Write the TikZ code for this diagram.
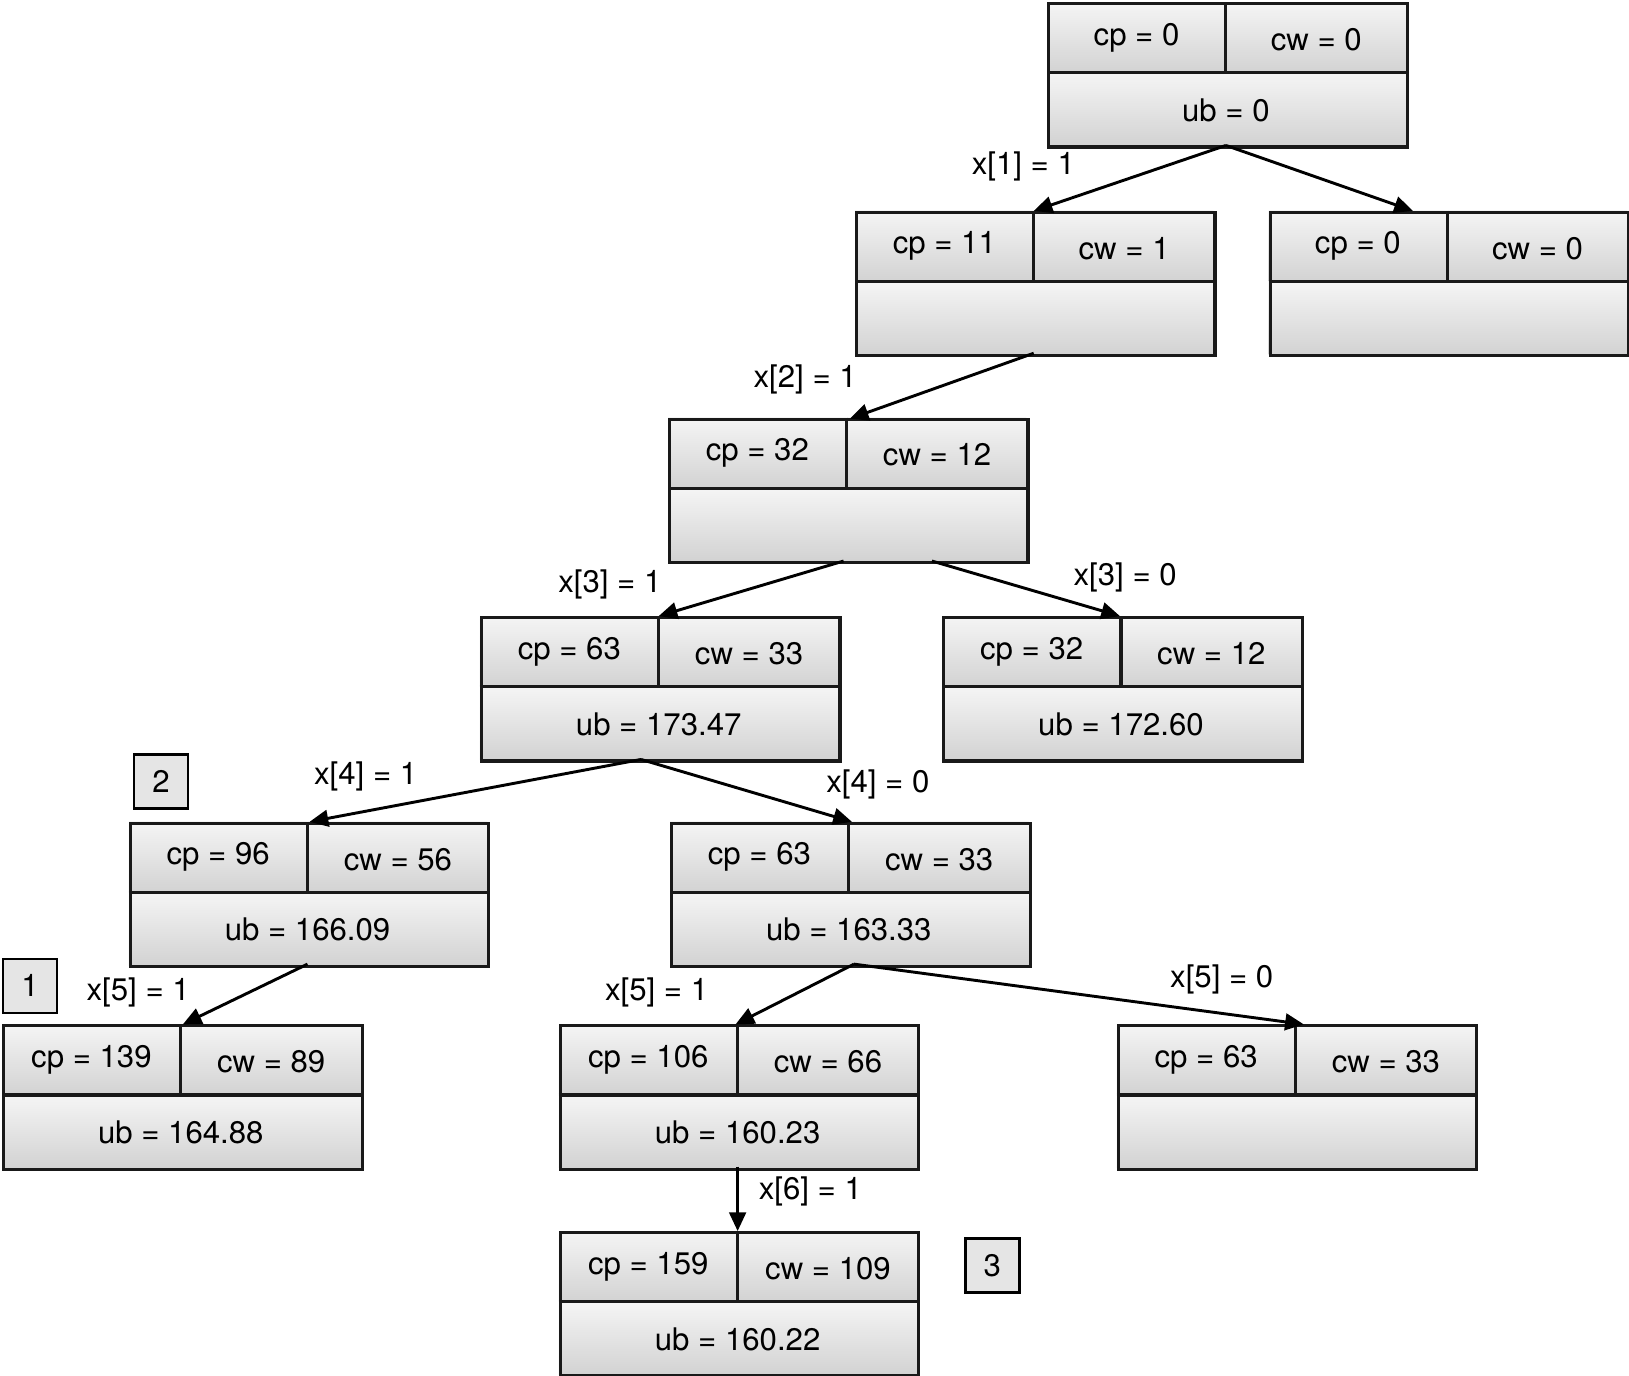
\documentclass[tikz,border=0pt]{standalone}
\usepackage{fontspec}
\setmainfont{TeX Gyre Heros}
\usetikzlibrary{arrows.meta}
\tikzset{
  cellfill/.style={top color=gray!8,bottom color=gray!35},
  boxline/.style={line width=1.5pt,draw=black!90},
  lbl/.style={font=\fontsize{15}{17}\selectfont,inner sep=0pt},
  edge/.style={line width=1.4pt,-{Triangle[length=9pt,width=8pt]}},
  tag/.style={draw,line width=1.3pt,fill=gray!20,minimum width=26pt,minimum height=26pt,inner sep=0pt,font=\fontsize{15}{17}\selectfont}
}
\newcommand\mybox[6]{%
  \shade[cellfill] (#2,#3) rectangle ++(172,68);
  \shade[cellfill] (#2+172,#3) rectangle ++(173,68);
  \shade[cellfill] (#2,#3+68) rectangle ++(345,70);
  \node[boxline,minimum width=172.5pt,minimum height=69pt,anchor=north west,inner sep=0pt] (#1) at (#2,#3) {};
  \draw[boxline] (#2,#3+68) -- ++(345,0) (#2+172,#3) -- ++(0,68);
  \node[lbl] at (#2+86,#3+34) {cp = #4};
  \node[lbl] at (#2+259,#3+36) {cw = #5};
  \node[lbl] at (#2+172,#3+104) {#6};
  \coordinate (#1-t) at (#2+172,#3);
  \coordinate (#1-b) at (#2+172,#3+138);
}
\begin{document}
\begin{tikzpicture}[x=0.5pt,y=-0.5pt]
\useasboundingbox (0,0) rectangle (1568,1324);
\mybox{A}{1008}{2}{0}{0}{ub = 0}
\mybox{B}{823}{203}{11}{1}{}
\mybox{C}{1221}{203}{0}{0}{}
\mybox{D}{643}{402}{32}{12}{}
\mybox{E}{462}{593}{63}{33}{ub = 173.47}
\mybox{F}{907}{593}{32}{12}{ub = 172.60}
\mybox{G}{124}{791}{96}{56}{ub = 166.09}
\mybox{H}{645}{791}{63}{33}{ub = 163.33}
\mybox{I}{2}{986}{139}{89}{ub = 164.88}
\mybox{J}{538}{986}{106}{66}{ub = 160.23}
\mybox{K}{1075}{986}{63}{33}{}
\mybox{L}{538}{1185}{159}{109}{ub = 160.22}
\coordinate (Ct) at (1360,203);
\coordinate (Db1) at (812,540);
\coordinate (Db2) at (897,540);
\coordinate (Eb) at (617,731);
\coordinate (Gt) at (298,791);
\coordinate (Ht) at (820,791);
\coordinate (Gb) at (296,928);
\coordinate (Hb) at (822,928);
\coordinate (Jt) at (708,986);
\coordinate (Kt) at (1255,986);
\coordinate (Jb) at (710,1123);
\coordinate (Lt) at (710,1185);
\coordinate (It) at (176,986);
\coordinate (Dt) at (818,403);
\coordinate (Et) at (634,593);
\coordinate (Ft) at (1078,593);
\coordinate (Bt) at (995,203);
\coordinate (Bb) at (995,340);
\draw[edge] (A-b) -- (Bt);
\draw[edge] (A-b) -- (Ct);
\draw[edge] (Bb) -- (Dt);
\draw[edge] (Db1) -- (Et);
\draw[edge] (Db2) -- (Ft);
\draw[edge] (Eb) -- (Gt);
\draw[edge] (Eb) -- (Ht);
\draw[edge] (Gb) -- (It);
\draw[edge] (Hb) -- (Jt);
\draw[edge] (Hb) -- (Kt);
\draw[edge] (Jb) -- (Lt);
\node[lbl] (l1) at (985,160) {x[1] = 1};
\node[lbl] (l2) at (775,365) {x[2] = 1};
\node[lbl] (l3) at (587,563) {x[3] = 1};
\node[lbl] (l4) at (1083,556) {x[3] = 0};
\node[lbl] (l5) at (352,747) {x[4] = 1};
\node[lbl] (l6) at (845,755) {x[4] = 0};
\node[lbl] (l7) at (133,955) {x[5] = 1};
\node[lbl] (l8) at (632,955) {x[5] = 1};
\node[lbl] (l9) at (1176,943) {x[5] = 0};
\node[lbl] (l10) at (780,1147) {x[6] = 1};
\node[tag] (t2) at (155,752) {2};
\node[tag] (t1) at (29,949) {1};
\node[tag] (t3) at (955,1218) {3};
\end{tikzpicture}
\end{document}
